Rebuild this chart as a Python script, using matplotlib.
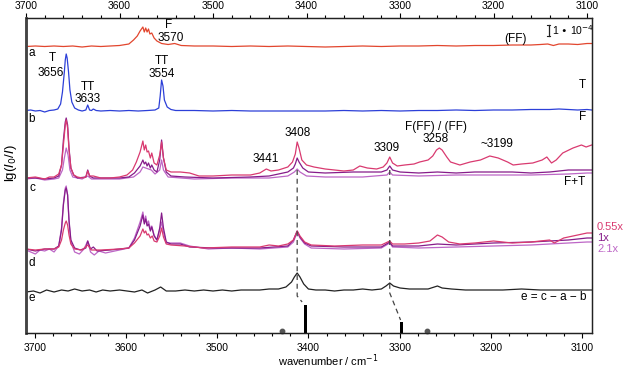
import matplotlib.pyplot as plt
from matplotlib.ticker import MultipleLocator
import numpy as np

plt.rcParams['font.family'] = ['Liberation Sans', 'DejaVu Sans']

# spectra: wavenumber / height above each trace's own baseline
# (height unit: the scale bar "1e-4" is 11 units tall)
wn_a = [3700, 3690, 3680, 3670, 3660, 3650, 3640, 3630, 3620, 3610, 3600, 3590, 3585, 3581, 3578, 3575,
        3573.5, 3572, 3570.5, 3569, 3567.5, 3565.5, 3563, 3560, 3555, 3548, 3541, 3534, 3520, 3500, 3480,
        3460, 3440, 3420, 3400, 3380, 3360, 3340, 3320, 3300, 3280, 3260, 3240, 3220, 3200, 3180, 3160,
        3150, 3142, 3136, 3130, 3120, 3110, 3100, 3095]
h_a = [-0.5, 0, -0.5, 0, -0.5, 0, -1, 0, -0.5, 0, 0.5, 2, 6, 10, 15, 19, 14, 18, 14, 17, 12, 13, 8, 5,
       2.5, 1.5, 2.5, 0.5, 0, 0, -0.5, 0, -0.5, 0, -0.5, -1, -0.5, 0, -0.5, 0, 0, 0.5, 0, 0.5, 0.5, 1, 1,
       1.5, 2, 0.5, 2, 2, 1.5, 2.5, 2.5]

wn_b = [3700, 3695, 3690, 3685, 3680, 3675, 3670, 3666, 3663, 3661, 3659, 3658, 3657, 3656, 3654.5, 3653,
        3651, 3648, 3644, 3640, 3636, 3634, 3632, 3630, 3628, 3625, 3620, 3610, 3600, 3590, 3580, 3570,
        3562, 3558, 3556.5, 3555, 3553.5, 3552, 3549, 3545, 3540, 3520, 3500, 3480, 3460, 3440, 3420, 3400,
        3380, 3360, 3340, 3320, 3300, 3280, 3260, 3240, 3220, 3200, 3180, 3160, 3140, 3130, 3120, 3110,
        3100, 3095]
h_b = [-0.5, 0, -1, -0.5, -2, -0.5, 0, 1, 6, 18, 38, 50, 56, 52, 38, 20, 8, 2, 0, -1, 0, 5, 0, -0.5, 1,
       -0.5, -1, -0.5, -1, -0.5, -1, -0.5, 0, 2, 14, 30, 24, 10, 3, 0.5, -0.5, -0.5, -1, -0.5, -1, -1, -1,
       -1, -1, -0.5, -1, -0.5, -1, -0.5, -0.5, 0, -0.5, 0, 0, 0.5, 0.5, 1, 0.5, 0, 0.5, 0]

# c: three experiments
wn_c1 = [3700, 3690, 3680, 3675, 3670, 3665, 3662, 3660, 3658, 3657, 3655.5, 3654, 3652, 3649, 3645, 3640,
         3636, 3634, 3632, 3628, 3620, 3610, 3600, 3592, 3586, 3582, 3578, 3575, 3573.5, 3572, 3570.5, 3569,
         3567, 3565.5, 3563, 3560, 3557, 3555, 3553, 3550, 3545, 3535, 3525, 3515, 3500, 3480, 3460, 3450,
         3443, 3438, 3430, 3420, 3415, 3412, 3410, 3408, 3405, 3400, 3392, 3380, 3370, 3360, 3350, 3343,
         3335, 3325, 3318, 3314, 3311, 3308, 3303, 3295, 3285, 3279, 3270, 3265, 3261, 3258, 3255, 3250,
         3246, 3236, 3225, 3214, 3204, 3195, 3185, 3179, 3170, 3158, 3148, 3143, 3138, 3133, 3126, 3115,
         3106, 3101, 3095]
h_c1 = [0, 1, -1, 1, 1, 4, 13, 33, 53, 58, 50, 28, 10, 3, 1, 0, 1, 7, 2, 2, 0, 0, 1, 3, 8, 16, 26, 37,
        28, 33, 26, 27, 20, 25, 15, 13, 23, 36, 20, 8, 6, 6, 5, 2, 2, 3, 3, 5, 9, 7, 8, 11, 16, 24, 36, 30,
        18, 13, 11, 9, 8, 7, 8, 12, 10, 9, 11, 15, 21, 15, 12, 13, 14, 16, 18, 22, 28, 30, 28, 21, 16, 13,
        16, 18, 22, 20, 16, 13, 14, 15, 18, 21, 15, 18, 25, 30, 33, 31, 33]

wn_c2 = [3700, 3690, 3680, 3670, 3665, 3662, 3660, 3658, 3657, 3655.5, 3654, 3652, 3649, 3645, 3636, 3634,
         3632, 3628, 3620, 3600, 3590, 3584, 3578, 3575, 3573.5, 3572, 3570.5, 3569, 3567, 3565.5, 3563,
         3560, 3557, 3555, 3553, 3550, 3545, 3530, 3500, 3460, 3440, 3420, 3414, 3412, 3410, 3408, 3404,
         3398, 3380, 3350, 3320, 3314, 3311, 3308, 3300, 3280, 3260, 3240, 3220, 3200, 3180, 3160, 3140,
         3120, 3100, 3095]
h_c2 = [0, 0, -1, 0, 2, 13, 38, 56, 60, 53, 30, 10, 3, 0, 1, 8, 2, 0, 0, 0, 1, 5, 12, 18, 14, 16, 12, 15,
        10, 13, 8, 6, 18, 38, 20, 6, 2, 1, 0, 1, 2, 6, 10, 14, 20, 16, 10, 6, 5, 6, 6, 8, 12, 8, 6, 5, 6,
        5, 6, 6, 6, 5, 6, 8, 8, 8]

wn_c3 = [3700, 3690, 3680, 3670, 3665, 3661, 3659, 3657, 3655, 3653, 3650, 3640, 3634, 3630, 3615, 3600,
         3585, 3578, 3575, 3572, 3569, 3566, 3562, 3557, 3555, 3553, 3548, 3520, 3480, 3440, 3420, 3413,
         3410, 3407, 3400, 3380, 3340, 3314, 3311, 3308, 3280, 3240, 3200, 3160, 3120, 3100, 3095]
h_c3 = [-1, 0, -2, -1, 0, 8, 20, 30, 23, 8, 1, -1, 2, -1, -1, -1, 1, 6, 11, 10, 9, 8, 4, 8, 18, 8, 1, -1,
        0, 0, 2, 6, 9, 6, 2, 1, 1, 3, 6, 3, 2, 3, 3, 3, 4, 5, 5]

# d: the same three, scaled 0.55x / 1x / 2.1x
wn_d1 = [3700, 3690, 3680, 3670, 3665, 3662, 3660, 3658, 3657, 3655.5, 3654, 3652, 3648, 3640, 3634, 3630,
         3620, 3600, 3590, 3584, 3578, 3575, 3573.5, 3572, 3570.5, 3569, 3567, 3565, 3563, 3560, 3557, 3555,
         3553, 3550, 3545, 3530, 3510, 3480, 3450, 3440, 3430, 3420, 3414, 3410, 3407, 3402, 3395, 3370,
         3340, 3320, 3311, 3308, 3295, 3280, 3268, 3260, 3255, 3248, 3236, 3220, 3200, 3180, 3160, 3140,
         3135, 3125, 3110, 3100, 3095]
h_d1 = [-1, -2, -1, -1, 1, 8, 18, 25, 27, 23, 13, 4, -1, -2, 3, -2, -2, -1, 0, 5, 12, 19, 15, 17, 13, 14,
        10, 12, 7, 6, 12, 20, 11, 4, 3, 2, 0, 1, 1, 3, 2, 4, 8, 17, 12, 6, 3, 2, 3, 3, 7, 4, 4, 5, 7, 13,
        11, 6, 4, 5, 7, 5, 6, 8, 5, 10, 13, 15, 15]

wn_d2 = [3700, 3690, 3680, 3670, 3665, 3662, 3660, 3658, 3657, 3655.5, 3654, 3652, 3648, 3642, 3636, 3634,
         3631, 3628, 3624, 3610, 3600, 3590, 3584, 3578, 3575, 3573.5, 3572, 3570.5, 3569, 3567, 3565.5,
         3563, 3560, 3557, 3555, 3553, 3550, 3545, 3535, 3525, 3500, 3450, 3420, 3414, 3410, 3407, 3402,
         3395, 3360, 3320, 3311, 3308, 3280, 3260, 3240, 3200, 3160, 3120, 3100, 3095]
h_d2 = [-1, -3, -1, -1, 2, 18, 43, 58, 60, 53, 28, 8, 0, -2, 0, 7, -1, 1, -3, -2, -1, 0, 8, 22, 33, 24,
        29, 22, 24, 17, 21, 12, 8, 20, 35, 20, 6, 4, 4, 1, 0, 0, 2, 8, 17, 11, 5, 2, 1, 1, 6, 2, 2, 4, 3,
        5, 6, 8, 10, 10]

wn_d3 = [3700, 3695, 3690, 3685, 3680, 3675, 3670, 3665, 3662, 3660, 3658, 3657, 3655.5, 3654, 3652, 3648,
         3643, 3638, 3634, 3631, 3627, 3622, 3615, 3600, 3590, 3584, 3578, 3575, 3573.5, 3572, 3570.5, 3569,
         3567, 3565.5, 3563, 3560, 3557, 3555, 3553, 3550, 3545, 3535, 3525, 3505, 3480, 3450, 3420, 3414,
         3410, 3407, 3402, 3395, 3360, 3320, 3311, 3308, 3280, 3240, 3200, 3160, 3120, 3100, 3095]
h_d3 = [-2, -4, -6, -2, -3, -1, -4, 2, 20, 45, 60, 62, 53, 26, 6, -4, -6, -1, 7, -4, -7, -3, -5, -2, 0,
        10, 26, 36, 26, 32, 24, 27, 19, 22, 13, 8, 18, 26, 16, 5, 5, 5, 2, -1, 0, -1, 1, 6, 16, 10, 4, 0,
        -1, 0, 5, 1, 0, 1, 2, 3, 5, 6, 6]

# e = c - a - b
wn_e = [3700, 3692, 3685, 3678, 3670, 3662, 3655, 3648, 3640, 3632, 3625, 3618, 3610, 3600, 3592, 3584,
        3576, 3570, 3562, 3556, 3550, 3540, 3530, 3520, 3510, 3500, 3490, 3480, 3470, 3460, 3450, 3440,
        3430, 3422, 3416, 3413, 3410, 3407, 3403, 3398, 3390, 3380, 3370, 3360, 3350, 3340, 3330, 3320,
        3315, 3311, 3307, 3300, 3290, 3280, 3270, 3260, 3255, 3245, 3230, 3210, 3190, 3170, 3150, 3130,
        3110, 3095]
h_e = [-2, -1, -3, 0, -2, 0, -1, 1, -1, 0, -2, 0, -1, 0, -1, -2, 0, -3, 0, 3, -1, -1, 0, -1, 0, -1, 0,
       -1, 0, 0, 0, 1, 1, 3, 8, 13, 17, 13, 6, 1, 0, 0, -1, 0, 0, 1, 0, 1, 4, 7, 4, 2, 1, 1, 1, 4, 2, 1,
       0, 0, 0, 1, 0, 0, 0, 0]

# computed bands (bottom axis)
stick_wn = [3403, 3298]
stick_h = [28, 11]
weak_wn = [3429, 3270]

RED, BLUE = '#e2462e', '#2c3fd8'
PINK, PURPLE, LILAC = '#d93a70', '#861c8a', '#bd66c6'

fig = plt.figure(figsize=(6.27, 3.70), dpi=100)
ax = fig.add_axes([26 / 627, 37 / 370, 566 / 627, 315 / 370])
ax.set_xlim(3700, 3094.7)
ax.set_ylim(0, 315)

lw = 0.9
ax.plot(wn_a, np.array(h_a) + 287, color=RED, lw=lw)
ax.plot(wn_b, np.array(h_b) + 223, color=BLUE, lw=lw)
ax.plot(wn_c3, np.array(h_c3) + 155, color=LILAC, lw=lw)
ax.plot(wn_c2, np.array(h_c2) + 155, color=PURPLE, lw=lw)
ax.plot(wn_c1, np.array(h_c1) + 155, color=PINK, lw=lw)
ax.plot(wn_d3, np.array(h_d3) + 85, color=LILAC, lw=lw)
ax.plot(wn_d2, np.array(h_d2) + 85, color=PURPLE, lw=lw)
ax.plot(wn_d1, np.array(h_d1) + 85, color=PINK, lw=lw)
ax.plot(wn_e, np.array(h_e) + 43, color='#222222', lw=lw)

# bottom axis (slightly different scale in the original)
axb = ax.twiny()
axb.set_xlim(3709.9, 3089.0)
axb.xaxis.tick_bottom()
axb.xaxis.set_label_position('bottom')
axb.xaxis.set_major_locator(MultipleLocator(100))
axb.xaxis.set_minor_locator(MultipleLocator(20))
axb.tick_params(axis='x', which='both', direction='out', labelsize=7.5, pad=3.5, width=0.8)
axb.tick_params(axis='x', which='major', length=3.5)
axb.tick_params(axis='x', which='minor', length=2.5)
axb.set_xlabel('wavenumber / cm$^{-1}$', fontsize=8)
axb.xaxis.set_label_coords(0.534, -0.062)

# top axis belongs to the spectra (after twiny, which moves it to the bottom)
ax.xaxis.tick_top()
ax.xaxis.set_major_locator(MultipleLocator(100))
ax.xaxis.set_minor_locator(MultipleLocator(20))
ax.set_yticks([])
ax.tick_params(axis='x', which='both', direction='out', labelsize=7.5, pad=1.5, width=0.8)
ax.tick_params(axis='x', which='major', length=3.5)
ax.tick_params(axis='x', which='minor', length=2.5)

for a in (ax, axb):
    for s in a.spines.values():
        s.set_linewidth(0.9)
        s.set_color('#222222')
    a.spines['left'].set_linewidth(1.8)
    a.spines['left'].set_color('#444444')

ax.set_ylabel('lg($I_0$/$I$)', fontsize=9.5)
ax.yaxis.set_label_coords(-0.013, 0.54)

axb.bar(stick_wn, stick_h, width=3.2, color='black')
axb.plot(weak_wn, [2.5, 2.5], 'o', color='#555555', ms=3.2, clip_on=False)


# dashed connectors: spectra peak (top scale) -> computed stick (bottom scale)
def to_b(x, y):
    return axb.transData.inverted().transform(ax.transData.transform((x, y)))


for x_top, y0, y1, xs, ys in [(3410, 163, 37, 3407, 31), (3311, 163, 40, 3299, 13)]:
    xb0 = to_b(x_top, y0)[0]
    axb.plot([xb0, xb0, xs], [y0, y1, ys], ls=(0, (4, 3)), color='#444444', lw=0.9)

fs = 8.5
kw = dict(ha='center', va='center', fontsize=fs)
ax.text(3547, 308, 'F', **kw)
ax.text(3545, 295, '3570', **kw)
ax.text(3177, 294, '(FF)', **kw)
ax.text(3672, 275, 'T', **kw)
ax.text(3674, 260, '3656', **kw)
ax.text(3634, 246, 'TT', **kw)
ax.text(3634, 234, '3633', **kw)
ax.text(3554.5, 272, 'TT', **kw)
ax.text(3554.5, 259, '3554', **kw)
ax.text(3410, 200, '3408', **kw)
ax.text(3444, 174, '3441', **kw)
ax.text(3314, 185, '3309', **kw)
ax.text(3261, 206, 'F(FF) / (FF)', **kw)
ax.text(3261.5, 194, '3258', **kw)
ax.text(3196.6, 189, '~3199', **kw)
ax.text(3104.6, 248, 'T', **kw)
ax.text(3104.6, 216, 'F', **kw)
ax.text(3112.8, 151, 'F+T', **kw)
ax.text(3136, 35.7, 'e = c \u2212 a \u2212 b', **kw)
for lab, y in zip('abcde', [280, 214, 145, 70, 35]):
    ax.text(3693.6, y, lab, **kw)

for lab, y, c in [('0.55x', 105.5, PINK), ('1x', 95, PURPLE), ('2.1x', 84.5, LILAC)]:
    ax.text(3089.3, y, lab, ha='left', va='center', fontsize=8, color=c, clip_on=False)

# scale bar 1e-4
ax.plot([3141, 3141], [297, 308], color='#222222', lw=0.9)
ax.plot([3142.5, 3139.5], [297, 297], color='#222222', lw=0.8)
ax.plot([3142.5, 3139.5], [308, 308], color='#222222', lw=0.8)
ax.text(3137, 302.5, '1 $\\bullet$ 10$^{-4}$', ha='left', va='center', fontsize=7.5)

fig.savefig('out.png', dpi=100)
